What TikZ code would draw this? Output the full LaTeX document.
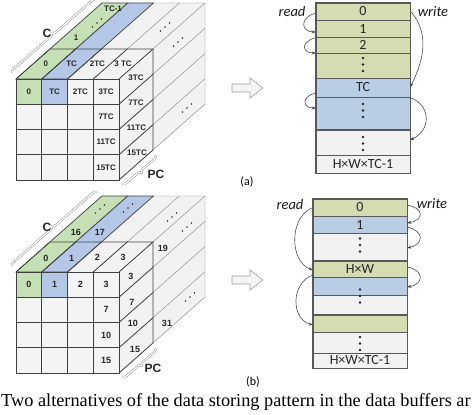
\documentclass[tikz,border=0pt]{standalone}
\usepackage{fontspec}
\setmainfont{Liberation Serif}
\newfontfamily\labf{Liberation Sans}
\newfontfamily\buff{Carlito}
\usetikzlibrary{calc,decorations.pathreplacing,arrows.meta}
\definecolor{cgreen}{HTML}{C5E0B4}
\definecolor{cblue}{HTML}{B4C7E7}
\definecolor{cgray}{HTML}{F2F2F2}
\definecolor{cface}{HTML}{F4F4F4}
\definecolor{dk}{HTML}{404040}
\definecolor{lt}{HTML}{8A8A8A}
\definecolor{bgreen}{HTML}{D6DCB2}
\definecolor{bblue}{HTML}{B9CDE5}
\definecolor{bwhite}{HTML}{F2F2F2}
\definecolor{bdk}{HTML}{595959}
\tikzset{
  dkline/.style={draw=dk, line width=0.7pt},
  ltline/.style={draw=lt, line width=0.45pt},
  lab/.style={font=\labf\bfseries\fontsize{8}{8}\selectfont, text=black!85, inner sep=0pt},
  labb/.style={font=\labf\bfseries\fontsize{9}{9}\selectfont, text=black!85, inner sep=0pt},
  bigl/.style={font=\labf\bfseries\fontsize{12}{12}\selectfont, text=black!85, inner sep=0pt},
  bcell/.style={draw=bdk, line width=0.5pt, minimum width=94pt, inner sep=0pt,
     font=\buff\fontsize{14}{14}\selectfont, text=black!85},
  rw/.style={font=\buff\itshape\fontsize{14.5}{14.5}\selectfont, text=black!90, inner sep=0pt},
  arr/.style={draw=dk, line width=0.55pt, -{Stealth[length=4pt,width=3pt]}},
  hollow/.style={fill=cface, draw=lt!80, line width=0.6pt},
  bracestyle/.style={draw=lt, double=white, double distance=1.3pt, line width=0.45pt,
     decorate, decoration={brace, amplitude=4pt}},
}
\newcommand\cubebase{%
  \fill[cgray] (119,79) -- (205,3) -- (205,104) -- (119,180) -- cycle;
  \fill[cgray] (67.5,79) -- (119,79) -- (205,3) -- (153.5,3) -- cycle;
  \draw[ltline] (93.25,79) -- (179.25,3);
  \foreach \k in {1,2,3} \draw[ltline] (119,79+25.25*\k) -- (205,3+25.25*\k);
  \draw[ltline] (153.5,3) -- (205,3) -- (205,104) -- (119,180);
  \draw[ltline] (119,79) -- (205,3);
  \filldraw[fill=cgreen, dkline] (16,79) -- (41.75,79) -- (127.75,3) -- (102,3) -- cycle;
  \filldraw[fill=cblue, dkline] (41.75,79) -- (67.5,79) -- (153.5,3) -- (127.75,3) -- cycle;
  \draw[dkline] (16,79) -- (50,49) -- (153,49) -- (119,79);
  \foreach \i in {1,2,3} \draw[dkline] (16+25.75*\i,79) -- ++(34,-30);
  \draw[dkline] (153,49) -- (153,150) -- (119,180);
  \foreach \k in {1,2,3} \draw[dkline] (119,79+25.25*\k) -- ++(34,-30);
  \foreach \i in {0,...,3} \foreach \j in {0,...,3}
    \filldraw[fill=cface, dkline] (16+25.75*\i,79+25.25*\j) rectangle +(25.75,25.25);
  \filldraw[fill=cgreen, dkline] (16,79) rectangle +(25.75,25.25);
  \filldraw[fill=cblue, dkline] (41.75,79) rectangle +(25.75,25.25);
}
\newcommand\diagdots[2]{\foreach \t in {-1,0,1} \fill[black!80] (#1+4.5*\t,#2-4*\t) circle (0.95pt);}
\newcommand\vdotsb[2]{\foreach \t in {-1,0,1} \fill[black!85] (#1,#2+6.5*\t) circle (1.3pt);}
\begin{document}
\begin{tikzpicture}[x=1pt,y=-1pt]
\useasboundingbox (0,0) rectangle (474,415);
\fill[white] (0,0) rectangle (474,415);

% ---------------- cube (a)
\begin{scope}
\cubebase
\node[lab] (fa00) at (28.9,91.6) {0};
\node[lab] (fa10) at (54.6,91.6) {TC};
\node[lab] (fa20) at (80.4,91.6) {2TC};
\node[lab] (fa30) at (106.1,91.6) {3TC};
\node[lab] (fa31) at (106.1,116.9) {7TC};
\node[lab] (fa32) at (106.1,142.1) {11TC};
\node[lab] (fa33) at (106.1,167.4) {15TC};
\node[lab] (ta0) at (45.9,64) {0};
\node[lab] (ta1) at (71.6,64) {TC};
\node[lab] (ta2) at (97.4,64) {2TC};
\node[lab] (ta3) at (123.1,64) {3 TC};
\node[lab] (ra0) at (136,77.5) {3TC};
\node[lab] (ra1) at (136,102.5) {7TC};
\node[lab] (ra2) at (136.5,128) {11TC};
\node[lab] (ra3) at (137,153) {15TC};
\node[lab] (ga1) at (76,38) {1};
\node[lab] (gan) at (113,9) {TC-1};
\diagdots{97}{23}
\diagdots{165}{27}
\diagdots{178}{42}
\diagdots{187}{108}
\draw[bracestyle] (12,73) -- (97,-1);
\node[bigl] (ca) at (47,33) {C};
\draw[bracestyle] (156,155) -- (122,184);
\node[bigl] (pca) at (156,174) {PC};
\end{scope}

% ---------------- cube (b)
\begin{scope}[shift={(0,193)}]
\cubebase
\node[labb] (fb00) at (28.9,91.6) {0};
\node[labb] (fb10) at (54.6,91.6) {1};
\node[labb] (fb20) at (80.4,91.6) {2};
\node[labb] (fb30) at (106.1,91.6) {3};
\node[labb] (fb31) at (106.1,116.9) {7};
\node[labb] (fb32) at (106.1,142.1) {10};
\node[labb] (fb33) at (106.1,167.4) {15};
\node[labb] (tb0) at (45.9,65) {0};
\node[labb] (tb1) at (71.6,65) {1};
\node[labb] (tb2) at (97.4,64) {2};
\node[labb] (tb3) at (123.1,64) {3};
\node[labb] (rb0) at (131,83) {3};
\node[labb] (rb1) at (132,109) {7};
\node[labb] (rb2) at (133,130) {10};
\node[labb] (rb3) at (135,156) {15};
\node[labb] (gb1) at (76,39) {16};
\node[labb] (bb1) at (100,39) {17};
\node[labb] (b19) at (163,55) {19};
\node[labb] (b31) at (167,130) {31};
\diagdots{100}{16}
\diagdots{128}{15}
\diagdots{172}{24}
\diagdots{187}{34}
\diagdots{190}{104}
\draw[bracestyle] (12,73) -- (97,-1);
\node[bigl] (cb) at (47,34) {C};
\draw[bracestyle] (156,155) -- (122,184);
\node[bigl] (pcb) at (153,175) {PC};
\end{scope}

% ---------------- hollow arrows
\draw[hollow] (232,84) -- (250,84) -- (250,78) -- (263,88) -- (250,98) -- (250,92) -- (232,92) -- cycle;
\draw[hollow] (232,276) -- (250,276) -- (250,270) -- (263,280) -- (250,290) -- (250,284) -- (232,284) -- cycle;

% ---------------- buffer (a)
\node[bcell, fill=bgreen, minimum height=17pt] (a0) at (363,11.5) {0};
\node[bcell, fill=bgreen, minimum height=17pt] (a1) at (363,28.5) {1};
\node[bcell, fill=bgreen, minimum height=16pt] (a2) at (363,45) {2};
\node[bcell, fill=bgreen, minimum height=25pt] (a3) at (363,65.5) {};
\node[bcell, fill=bblue, minimum height=19pt] (a4) at (363,87.5) {TC};
\node[bcell, fill=bblue, minimum height=33pt] (a5) at (363,113.5) {};
\node[bcell, fill=bwhite, minimum height=25pt] (a6) at (363,142.5) {};
\node[bcell, fill=bwhite, minimum height=18pt] (a7) at (363,164) {H×W×TC-1};
\draw[bdk, line width=1pt] (a0.north west) rectangle (a7.south east);
\draw[bdk, line width=1pt] (a6.north west) -- (a6.north east);
\vdotsb{363}{64.5}
\vdotsb{363}{110.5}
\vdotsb{363}{143.5}
\node[rw] (reada) at (292,12) {read};
\node[rw] (writea) at (433,12) {write};
\draw[arr] ($(a0.west)+(-1,2)$) .. controls +(-15,4) and +(-15,0) .. ($(a1.west)+(0,3.5)$);
\draw[arr] ($(a2.west)+(-1,-7)$) .. controls +(-14,4) and +(-14,0) .. ($(a2.west)+(0,8)$);
\draw[arr] ($(a4.west)+(0,5.5)$) .. controls +(-14,3) and +(-14,0) .. ($(a5.west)+(0,-5.5)$);
\draw[arr] ($(a0.east)+(1,0.5)$) .. controls +(18,22) and +(14,-28) .. ($(a4.east)+(0,-0.5)$);
\draw[arr] ($(a5.east)+(0,-16)$) .. controls +(21,8) and +(21,-10) .. ($(a6.east)+(0,-2.5)$);
\node[font=\buff\fontsize{12}{12}\selectfont, inner sep=0pt] (la) at (247,182) {(a)};

% ---------------- buffer (b)
\node[bcell, fill=bgreen, minimum height=17pt] (b0) at (360,207.5) {0};
\node[bcell, fill=bblue, minimum height=17pt] (b1) at (360,224.5) {1};
\node[bcell, fill=bwhite, minimum height=28pt] (b2) at (360,247) {};
\node[bcell, fill=bgreen, minimum height=16pt] (b3) at (360,269) {H×W};
\node[bcell, fill=bblue, minimum height=18pt] (b4) at (360,286) {};
\node[bcell, fill=bwhite, minimum height=20pt] (b5) at (360,305) {};
\node[bcell, fill=bgreen, minimum height=17pt] (b6) at (360,323.5) {};
\node[bcell, fill=bwhite, minimum height=21pt] (b7) at (360,342.5) {};
\node[bcell, fill=bwhite, minimum height=15pt] (b8) at (360,360.5) {H×W×TC-1};
\draw[bdk, line width=1pt] (b0.north west) rectangle (b8.south east);
\draw[bdk, line width=1.6pt] (b3.north west) -- (b3.north east);
\draw[bdk, line width=1.6pt] (b6.north west) -- (b6.north east);
\vdotsb{360}{245}
\vdotsb{360}{296}
\vdotsb{360}{343.5}
\node[rw] (readb) at (290,205) {read};
\node[rw] (writeb) at (432,204) {write};
\draw[arr] ($(b0.west)+(-1,0.5)$) .. controls +(-23,10) and +(-23,-8) .. ($(b3.west)+(0,1)$);
\draw[arr] ($(b3.west)+(0,6)$) .. controls +(-22,8) and +(-22,-6) .. ($(b6.west)+(0,1.5)$);
\draw[arr] ($(b0.east)+(0,-2.5)$) .. controls +(17,3) and +(17,-3) .. ($(b1.east)+(0,-1.5)$);
\draw[arr] ($(b1.east)+(0,2.5)$) .. controls +(17,4) and +(17,-4) .. ($(b2.east)+(0,1)$);
\draw[arr] ($(b3.east)+(0,-2)$) .. controls +(17,3) and +(17,-3) .. ($(b4.east)+(0,1)$);
\node[font=\buff\fontsize{12}{12}\selectfont, inner sep=0pt] (lb) at (253,382) {(b)};

% ---------------- caption
\node[anchor=base west, inner sep=0pt, font=\fontsize{18.3}{18.3}\selectfont] (cap) at (1,406)
  {Two alternatives of the data storing pattern in the data buffers ar};
\end{tikzpicture}
\end{document}
